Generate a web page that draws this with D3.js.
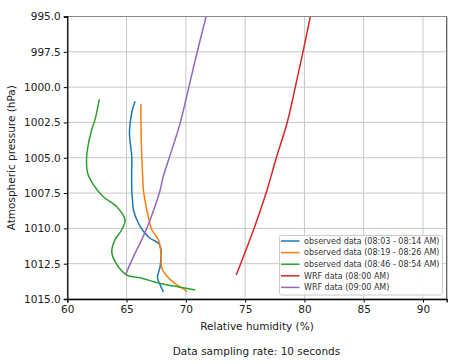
<!DOCTYPE html>
<html><head><meta charset="utf-8">
<script src="https://cdn.jsdelivr.net/npm/d3@7"></script>
<style>body{margin:0;background:#fff;}svg{display:block;font-family:"DejaVu Sans",sans-serif;}</style>
</head><body>
<svg id="c" width="474" height="364"></svg>
<script>
const xTicks = [60, 65, 70, 75, 80, 85, 90];
const yTicks = [995.0, 997.5, 1000.0, 1002.5, 1005.0, 1007.5, 1010.0, 1012.5, 1015.0];

const obs1P = [1001.0, 1001.6, 1002.56, 1003.27, 1004.45, 1004.9, 1006.0, 1007.3, 1008.0, 1008.7, 1009.64, 1010.2, 1010.7, 1011.06, 1011.5, 1012.0, 1012.7, 1013.5, 1014.0, 1014.5];
const obs1RH = [65.72, 65.49, 65.3, 65.24, 65.38, 65.44, 65.43, 65.44, 65.5, 65.58, 66.0, 66.42, 66.98, 67.69, 67.91, 67.9, 67.83, 67.6, 67.83, 68.1];

const obs2P = [1001.2, 1003.0, 1004.9, 1006.2, 1007.3, 1008.0, 1008.7, 1009.4, 1010.1, 1010.8, 1011.4, 1012.0, 1012.8, 1013.5, 1014.0, 1014.4, 1014.5];
const obs2RH = [66.2, 66.22, 66.28, 66.35, 66.42, 66.55, 66.7, 66.9, 67.13, 67.69, 67.85, 67.91, 67.97, 68.53, 69.24, 70.0, 70.08];

const obs3P = [1000.86, 1001.5, 1002.3, 1003.0, 1004.45, 1005.3, 1006.1, 1006.9, 1007.76, 1008.47, 1009.4, 1010.1, 1010.8, 1011.65, 1012.36, 1013.3, 1013.5, 1013.9, 1014.17, 1014.36];
const obs3RH = [62.7, 62.55, 62.34, 62.06, 61.69, 61.62, 61.72, 62.2, 63.04, 64.17, 64.87, 64.59, 64.03, 63.75, 64.03, 65.0, 66.14, 67.83, 69.52, 70.79];

const wrf8P = [995.0, 997.5, 1000.0, 1002.56, 1005.0, 1007.3, 1010.1, 1013.3];
const wrf8RH = [80.5, 79.88, 79.23, 78.53, 77.63, 76.84, 75.71, 74.25];

const wrf9P = [995.0, 997.6, 1000.0, 1002.6, 1005.0, 1006.3, 1007.3, 1009.4, 1010.8, 1012.0, 1013.3];
const wrf9RH = [71.71, 70.93, 70.25, 69.5, 68.6, 68.1, 67.83, 66.98, 66.28, 65.58, 64.9];

const seriesNames = ["observed data (08:03 - 08:14 AM)", "observed data (08:19 - 08:26 AM)", "observed data (08:46 - 08:54 AM)", "WRF data (08:00 AM)", "WRF data (09:00 AM)"];
const seriesColors = ["#1f77b4", "#ff7f0e", "#2ca02c", "#d62728", "#9467bd"];
const seriesP = [obs1P, obs2P, obs3P, wrf8P, wrf9P];
const seriesRH = [obs1RH, obs2RH, obs3RH, wrf8RH, wrf9RH];

const L = 67.3, R = 446.7, T = 16.5, B = 299;
const svg = d3.select("#c");
const x = d3.scaleLinear().domain([60, 92]).range([L, R]);
const y = d3.scaleLinear().domain([995, 1015]).range([T, B]);

// grid
const g = svg.append("g");
g.selectAll(".gx").data(xTicks).join("line")
  .attr("x1", d => x(d)).attr("x2", d => x(d)).attr("y1", T).attr("y2", B)
  .attr("stroke", "#c8c8c8").attr("stroke-width", 1);
g.selectAll(".gy").data(yTicks).join("line")
  .attr("x1", L).attr("x2", R).attr("y1", d => y(d)).attr("y2", d => y(d))
  .attr("stroke", "#c8c8c8").attr("stroke-width", 1);

// lines
const line = d3.line().curve(d3.curveCatmullRom.alpha(0.5));
seriesP.forEach((ps, i) => {
  const pts = ps.map((p, j) => [x(seriesRH[i][j]), y(p)]);
  svg.append("path").attr("d", line(pts)).attr("fill", "none")
    .attr("stroke", seriesColors[i]).attr("stroke-width", 1.5);
});

// spines
svg.append("line").attr("x1", L).attr("x2", R).attr("y1", T).attr("y2", T).attr("stroke", "#888").attr("stroke-width", 1.2);
svg.append("line").attr("x1", R).attr("x2", R).attr("y1", T).attr("y2", B).attr("stroke", "#555").attr("stroke-width", 1.2);

// axes
const xAxis = d3.axisBottom(x).tickValues(xTicks).tickFormat(d3.format("d")).tickSizeOuter(0).tickSize(3.5).tickPadding(3);
const yAxis = d3.axisLeft(y).tickValues(yTicks).tickFormat(d3.format(".1f")).tickSizeOuter(0).tickSize(3.5).tickPadding(3);
const gx = svg.append("g").attr("transform", `translate(0,${B})`).call(xAxis);
const gy = svg.append("g").attr("transform", `translate(${L},0)`).call(yAxis);
[gx, gy].forEach(a => {
  a.select(".domain").attr("stroke", "#000").attr("stroke-width", 1.3);
  a.selectAll(".tick line").attr("stroke", "#000");
  a.selectAll(".tick text").attr("fill", "#222").style("font-size", "10.5px").style("font-family", "DejaVu Sans");
});

// labels
svg.append("text").attr("x", (L + R) / 2).attr("y", 330).attr("text-anchor", "middle")
  .attr("fill", "#222").style("font-size", "10.5px").text("Relative humidity (%)");
svg.append("text").attr("transform", `translate(15,${(T + B) / 2}) rotate(-90)`).attr("text-anchor", "middle")
  .attr("fill", "#222").style("font-size", "10.5px").text("Atmospheric pressure (hPa)");
svg.append("text").attr("x", 256.5).attr("y", 355).attr("text-anchor", "middle")
  .attr("fill", "#222").style("font-size", "10.5px").text("Data sampling rate: 10 seconds");

// legend
const lg = svg.append("g");
lg.append("rect").attr("x", 279.5).attr("y", 235.5).attr("width", 163).attr("height", 59.5).attr("rx", 2)
  .attr("fill", "#fff").attr("fill-opacity", 0.9).attr("stroke", "#ccc");
seriesNames.forEach((n, i) => {
  const yy = 241 + i * 11.6;
  lg.append("line").attr("x1", 281).attr("x2", 299.5).attr("y1", yy).attr("y2", yy)
    .attr("stroke", seriesColors[i]).attr("stroke-width", 1.5);
  lg.append("text").attr("x", 304).attr("y", yy).attr("dy", "0.35em").attr("fill", "#333")
    .style("font-size", "8px").text(n);
});
</script>
</body></html>
